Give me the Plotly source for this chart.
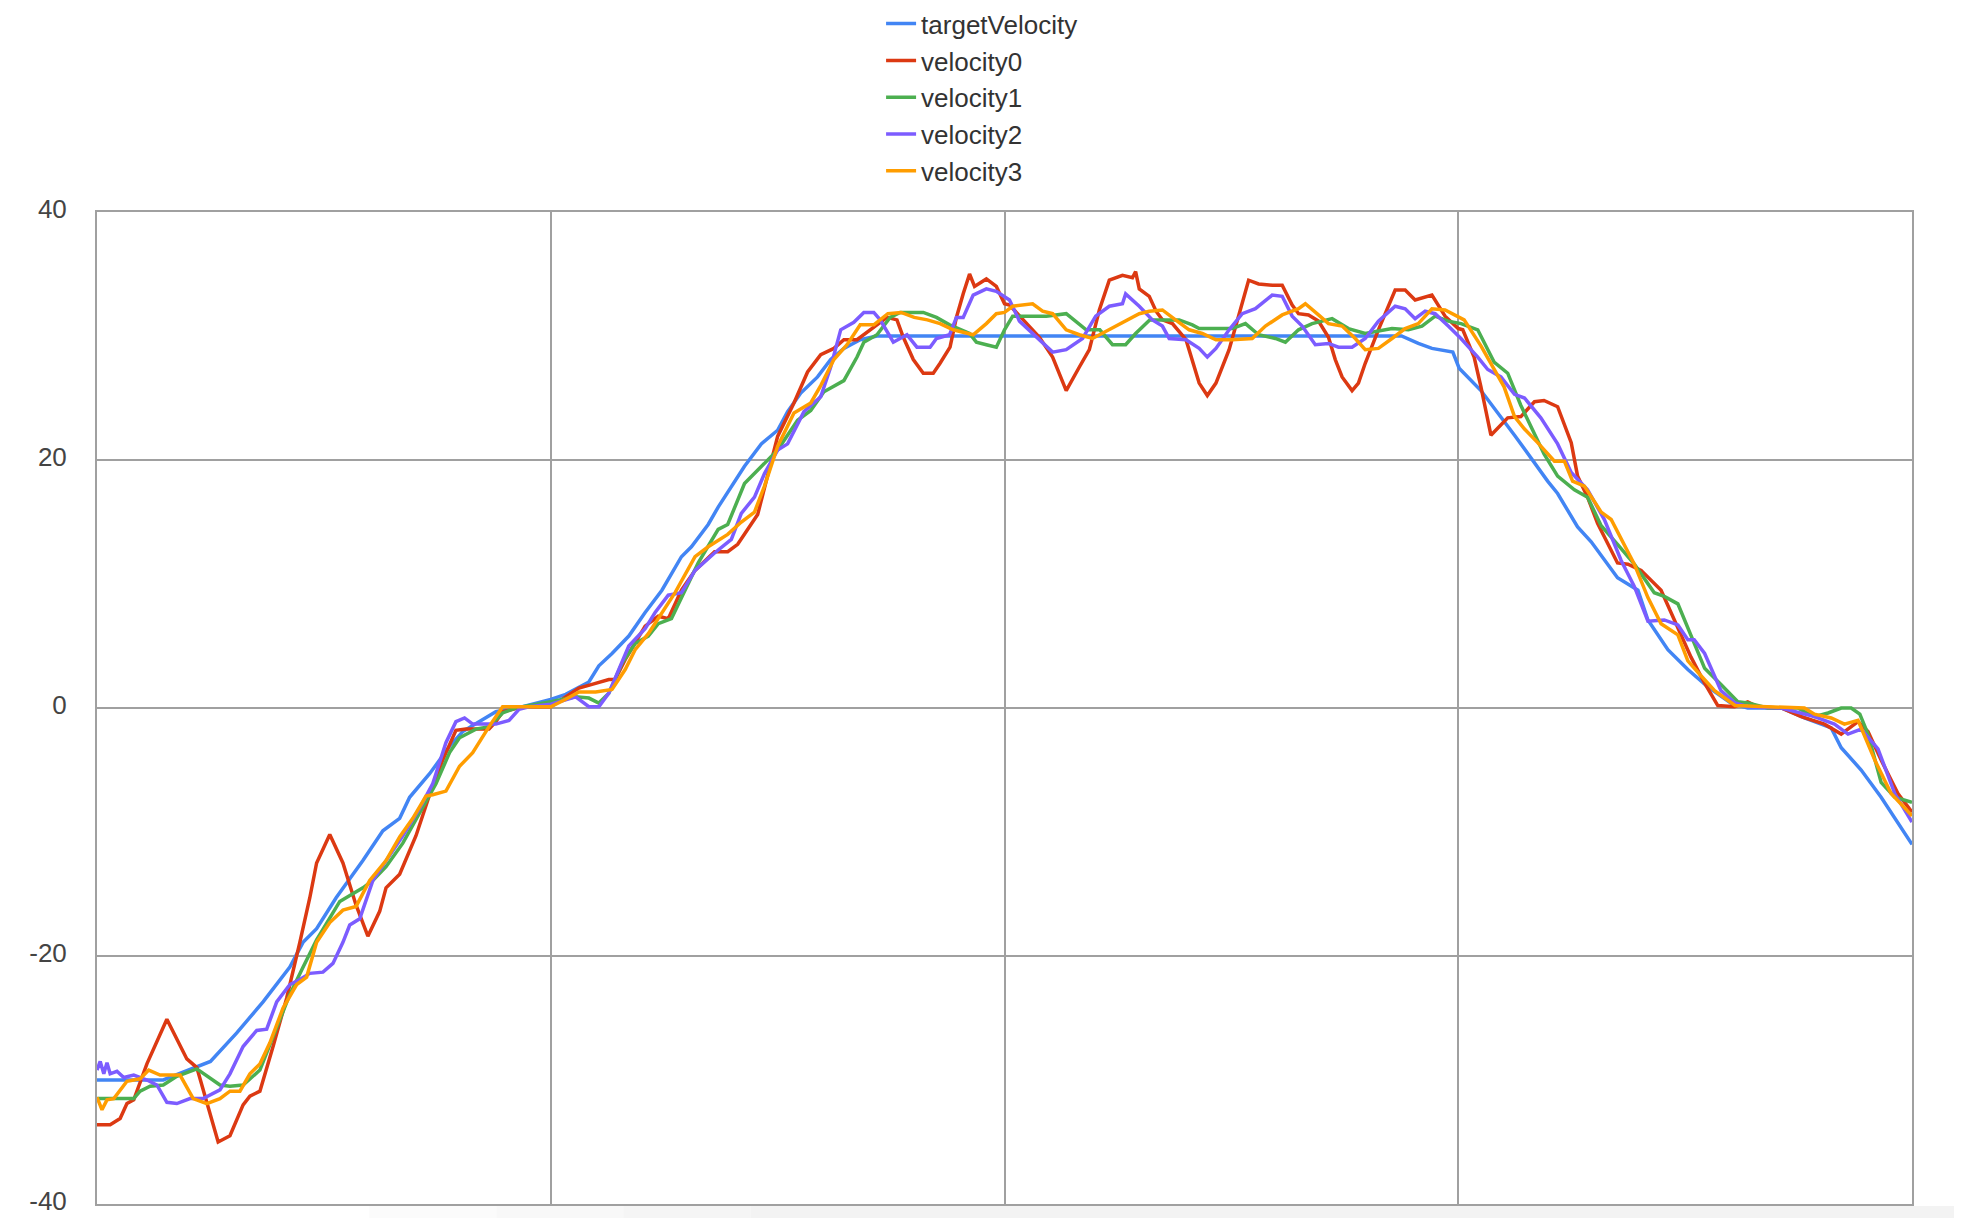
"""
vitesses cible et mesurees de quatre moteurs
"""

from plotly.graph_objects import Scatter, Figure

# donnees (x en echantillons, 0 a 400)
target_x = [0, 14.6, 25, 30.8, 36.6, 42.5, 45.4, 48.4, 52.7, 58.6, 63, 66.7, 68.9, 73.3, 77.7, 80.6,
            84.2, 87.9, 93.8, 100, 103.3, 108.4, 110.6, 113.5, 117.2, 120.8, 124.5, 128.8, 131,
            134.7, 136.9, 139.8, 142.7, 146.4, 150, 152.2, 155.1, 158.8, 161.7, 164.6, 168.2, 171.9,
            287.5, 291.2, 294.2, 298.8, 300.2, 305, 312.4, 319.7, 321.9, 326.3, 329.3, 335.1, 339.6,
            341.8, 346.2, 350.6, 355, 360.1, 363.8, 371.2, 376.3, 382.2, 384.4, 388.8, 393.2, 400]
target_y = [-30, -30, -28.5, -26.2, -23.7, -20.9, -18.9, -17.8, -15.3, -12.3, -9.9, -8.9, -7.2, -5.3,
            -3.1, -1.9, -1.1, -0.3, 0.1, 0.7, 1.1, 2.1, 3.4, 4.4, 5.8, 7.7, 9.5, 12.2, 13, 14.8, 16.2,
            17.9, 19.5, 21.3, 22.4, 23.9, 25.4, 26.7, 28.1, 29, 29.7, 30,
            30, 29.4, 29, 28.7, 27.4, 25.6, 22, 18.3, 17.3, 14.6, 13.4, 10.5, 9.5, 7.1, 4.7, 3.1,
            1.7, 0.4, 0, 0, -0.8, -1.6, -3.2, -5, -7.2, -11]

v0_x = [0, 2.9, 5.1, 6.6, 8.1, 11, 15.4, 19.8, 22, 24.2, 26.7, 29.3, 32.2, 33.7, 35.9, 38.8, 41.8,
        44.7, 46.9, 48.4, 51.3, 54.2, 57.1, 59.7, 62.3, 63.7, 66.7, 70.3, 73.3, 76.2, 79.1, 81.3,
        86.4, 87.9, 89.4, 93.8, 100,
        103.3, 106.2, 109.1, 111.3, 112.8, 114.2, 116.4, 119, 120.8, 123.7, 125.9, 128.8, 131.8,
        136.1, 139, 141.2, 144.2, 145.6, 150, 153.6, 156.6, 159.5, 162.4, 164.6, 167.5, 171.2,
        174.1, 176.3, 177.7, 179.9, 182.1, 184.3, 185.8, 188, 189.4, 190.9, 192.3, 193.4, 196,
        198.2, 200,
        201.1, 204.8, 207.7, 210.6, 213.6, 216.5, 218.7, 220.9, 223.1, 226, 228.2, 228.9, 229.7,
        231.9, 233.4, 234.8, 237, 240, 242.9, 244.7, 246.6, 249.5, 251.6, 253.8, 256, 259, 261.2,
        263.4, 264.8, 267, 269.2, 271.4, 272.9, 274.4, 276.6, 278, 279.5, 282.4, 286.1, 288.3,
        290.5, 294.2, 297.1, 300,
        301, 303.5, 305, 307.2, 310.9, 313.8, 316.8, 318.9, 321.9, 324.9, 326.3, 328.5, 330.7,
        335.1, 337.4, 340.3, 344.7, 347.6, 351.3, 354.3, 357.2, 360.9, 363.8, 366, 371.2, 375.6,
        380.7, 384.4, 388.1, 390.3, 393.2, 396.9, 400]
v0_y = [-33.6, -33.6, -33.1, -31.9, -31.6, -28.7, -25.1, -28.3, -29, -31.8, -35, -34.5, -32, -31.3,
        -30.9, -27.3, -23.4, -18.9, -15.3, -12.5, -10.2, -12.5, -15.9, -18.4, -16.4, -14.5, -13.4,
        -10.3, -7, -4.2, -1.8, -1.7, -1.7, -1.1, -0.3, 0.1, 0.1,
        0.9, 1.6, 1.9, 2.1, 2.3, 2.3, 3.9, 5.5, 6.6, 7.4, 7.2, 9.5, 11.1, 12.6, 12.6, 13.2, 14.9,
        15.6, 21.9, 24.6, 27.1, 28.5, 29, 29.7, 29.7, 30.7, 31.5, 31.3, 29.9, 28.1, 27, 27, 27.8,
        29.1, 31.5, 33.4, 35, 34, 34.6, 34, 32.6,
        32.5, 31, 29.9, 28.3, 25.6, 27.5, 28.9, 32.1, 34.5, 34.9, 34.7, 35.2, 33.8, 33.2, 32, 31.3,
        31, 29.7, 26.2, 25.2, 26.2, 28.9, 31.6, 34.5, 34.2, 34.1, 34.1, 32.5, 31.8, 31.7, 31.2,
        29.9, 28.1, 26.7, 25.6, 26.2, 27.8, 30.5, 33.7, 33.7, 32.9, 33.3, 31.6, 30.6,
        30.5, 28.3, 25.9, 22, 23.4, 23.5, 24.7, 24.8, 24.3, 21.4, 18.7, 17, 14.9, 11.7, 11.6, 11.1,
        9.5, 7.1, 4.1, 2, 0.2, 0.1, 0.5, 0.1, 0, -0.7, -1.3, -2.1, -1.1, -1.9, -4.2, -6.9, -8.4]

v1_x = [0, 8.1, 9.5, 11.7, 14.6, 17.6, 22, 27.1, 29.3, 32.2, 35.9, 38.8, 42.5, 45.4, 48.4, 53.5,
        58.6, 60.8, 63.7, 67.4, 71.1, 74.7, 77.7, 79.9, 83.5, 86.4, 89.4, 92.3, 100,
        105.5, 108.4, 110.6, 112.8, 115.7, 118.6, 121.5, 123.7, 126.6, 129.6, 132.5, 136.9, 139,
        142.7, 146.4, 150, 154.4, 157.3, 160.2, 164.6, 167.5, 169, 171.9, 174.8, 177, 182.1, 185,
        187.9, 192.3, 193.8, 196, 198.2, 200,
        201.8, 209.2, 213.6, 218, 221, 223.8, 226.7, 228.9, 232, 238.5, 241.4, 242.9, 250.2,
        253.1, 256, 259.7, 261.9, 264.8, 267.8, 272.2, 275.8, 279.5, 285.4, 289, 292, 294.9, 297.8,
        300.6, 304.3, 307.9, 310.9, 313.8, 318.9, 321.9, 325.6, 328.5, 331.5, 335.1, 338.8, 343.2,
        345.4, 348.4, 351.3, 354.3, 357.9, 361.6, 363.8, 368.2, 374.8, 378.5, 381.5, 384.4, 386.6,
        388.5, 390.3, 393.2, 396.2, 400]
v1_y = [-31.5, -31.5, -30.9, -30.5, -30.4, -29.7, -29.1, -30.4, -30.5, -30.4, -29.2, -26.5, -23.1,
        -20.9, -18.7, -15.6, -14.5, -13.9, -12.8, -10.9, -8.4, -6.1, -3.6, -2.4, -1.7, -1.5, -0.4,
        0, 0.5,
        0.9, 0.8, 0.4, 1.2, 3.6, 5.2, 5.8, 6.8, 7.2, 9.5, 11.7, 14.4, 14.8, 18.1, 19.5, 20.8, 23.2,
        24, 25.5, 26.4, 28.3, 29.5, 30.1, 31.5, 31.9, 31.9, 31.5, 30.9, 30.2, 29.5, 29.3, 29.1, 30.5,
        31.6, 31.6, 31.8, 30.5, 30.5, 29.3, 29.3, 30.2, 31.3, 31.3, 30.9, 30.6, 30.6, 31, 30.1,
        29.8, 29.5, 30.5, 31, 31.4, 30.6, 30.2, 30.6, 30.5, 30.8, 31.6, 31.2,
        31, 30.5, 27.9, 27, 24.4, 20.5, 18.7, 17.6, 17, 14.7, 13.2, 11.6, 9.3, 9, 8.4, 5.9, 3.2,
        1.9, 0.5, 0.4, 0, 0, -0.7, -0.4, 0, 0, -0.5, -2.1, -6, -7.2, -7.6]

v2_x = [0, 0.7, 1.5, 2.2, 2.9, 4.4, 5.9, 8.1, 11, 13.2, 15.4, 17.6, 20.5, 23.4, 27.1, 29.3, 32.2,
        35.2, 37.4, 39.6, 42.5, 44.7, 46.9, 49.8, 52, 54.2, 55.7, 57.9, 60.8, 63.7, 67.4, 71.1, 74,
        76.9, 79.1, 81, 82.8, 87.9, 90.8, 93, 95.2, 100,
        102, 105.5, 108.4, 110.6, 112.8, 117.2, 120.8, 123, 125.9, 128.8, 131.8, 136.1, 139.8,
        142, 144.9, 147.1, 150, 152.2, 155.8, 159.5, 161.7, 163.9, 166.8, 169, 171.2, 172.6,
        175.5, 178.5, 180.7, 183.6, 185, 187.9, 189.4, 190.9, 193.1, 196, 198.2, 200,
        201.1, 203.3, 206.2, 209.2, 210.6, 213.6, 217.2, 220.1, 223.1, 226, 226.7, 229.7, 232.6,
        234.8, 236.3, 240, 242.9, 244.7, 246.6, 249.5, 252.4, 255.3, 259, 261.2, 263.4, 265.6,
        268.5, 271.4, 273.6, 276.6, 279.5, 282.4, 286.1, 288.3, 290.5, 292.7, 294.9, 297.8,
        300.6, 304.3, 306.5, 309.4, 312.4, 314.6, 318.2, 321.9, 324.9, 328.5, 332.2, 335.9, 338.8,
        341.8, 345.4, 348.4, 350.6, 352, 354.3, 357.9, 361, 363.8, 371.2, 378.5, 382.9, 385.9,
        388.8, 392.5, 396.2, 400]
v2_y = [-29.2, -28.5, -29.5, -28.6, -29.5, -29.3, -29.8, -29.6, -30, -30.4, -31.8, -31.9, -31.5,
        -31.5, -30.8, -29.5, -27.3, -26, -25.9, -23.7, -22.3, -21.9, -21.4, -21.3, -20.6, -18.9,
        -17.5, -17, -13.9, -12.3, -10.3, -8.1, -6.1, -2.8, -1.1, -0.8, -1.3, -1.3, -1, -0.1, 0.1, 0.3,
        0.5, 0.9, 0.1, 0.1, 1.2, 5, 6.4, 7.7, 9.1, 9.3, 11.1, 12.5, 13.6, 15.7, 17, 18.9, 20.8, 21.3,
        23.9, 25.1, 27.5, 30.5, 31.1, 31.9, 31.9, 31.3, 29.5, 30.1, 29.1, 29.1, 29.8, 30.1, 31.5,
        31.5, 33.3, 33.8, 33.6, 33.2,
        32.9, 31.2, 30.2, 29.1, 28.7, 28.9, 29.8, 31.6, 32.4, 32.6, 33.4, 32.4, 31.3, 30.8, 29.8,
        29.7, 29, 28.3, 29, 30.5, 31.8, 32.2, 33.3, 33.2, 31.6, 30.8, 29.3, 29.4, 29.1, 29.1, 29.8,
        31.2, 32.4, 32.2, 31.4, 32, 31.8, 30.8,
        29.8, 28.3, 27.3, 26.7, 25.3, 25, 23.4, 21.3, 19, 17.6, 15.2, 11.9, 9.8, 7, 7.1, 6.7, 5.5,
        5.5, 4.4, 1.4, 0.4, 0.1, 0, -0.7, -1.3, -2.1, -1.7, -3.3, -6.9, -9.2]

v3_x = [0, 1.1, 2.2, 3.7, 6.6, 9.5, 11.4, 13.9, 18.3, 21.2, 24.2, 27.1, 29.3, 31.5, 33.7, 35.9,
        38.1, 41, 44, 46.2, 48.4, 51.3, 54.2, 57.1, 60.1, 63.7, 66.7, 69.6, 72.5, 74, 76.9, 79.9,
        82.8, 86.4, 89.4, 100,
        103.3, 106.2, 109.9, 113.5, 116.4, 118.6, 121.5, 124.5, 127.4, 131.8, 134.7, 139, 142,
        144.9, 147.1, 150, 153.6, 157.3, 159.5, 162.4, 165.3, 168.2, 171.2, 174.3, 177.2, 180.1,
        183, 185.8, 188.7, 193.1, 196, 198.2, 200,
        201.8, 204, 206.2, 208.4, 210.6, 213.6, 216.5, 219.4, 223.1, 226.7, 229.7, 231.9, 234.8,
        237.7, 240.7, 243.6, 246.6, 250.2, 254.6, 257.5, 261.2, 264.8, 266.3, 269.2, 271.4, 274.4,
        277.3, 279.5, 282.4, 285.4, 288.3, 291.2, 294.2, 297.1,
        301.3, 305, 307.9, 310.1, 312.4, 314.6, 317.5, 321.2, 323.4, 325.2, 327.8, 331.5, 333.7,
        338.8, 341.8, 344.7, 348.4, 350.6, 353.5, 356.5, 361, 376.3, 378.5, 382.2, 385.1, 388.1,
        391.8, 395.4, 400]
v3_y = [-31.4, -32.4, -31.6, -31.5, -30.1, -29.9, -29.2, -29.6, -29.6, -31.5, -31.9, -31.5, -30.9,
        -30.9, -29.5, -28.7, -27, -24.2, -22.3, -21.7, -18.9, -17.3, -16.3, -16, -13.9, -12.3,
        -10.4, -8.9, -7.1, -7, -6.7, -4.7, -3.6, -1.5, 0.1, 0.1,
        0.7, 1.3, 1.3, 1.5, 3.1, 4.7, 6, 7.7, 9.3, 12.2, 13, 14, 15, 15.8, 17.9, 21.1, 23.8, 24.6,
        26, 28.1, 29.3, 30.9, 30.9, 31.8, 31.9, 31.5, 31.3, 31, 30.5, 30.1, 31, 31.8, 31.9,
        32.4, 32.5, 32.6, 32, 31.8, 30.5, 30.1, 29.8, 30.5, 31.2, 31.8, 32, 32.1, 31.3, 30.5, 30.2,
        29.7, 29.7, 29.8, 30.8, 31.7, 32.2, 32.6, 31.7, 31, 30.8, 29.8, 28.9, 29, 29.8, 30.6, 31,
        32.2, 32.1,
        31.3, 29.2, 27.4, 25.9, 23.5, 22.5, 21.4, 19.9, 19.9, 18.3, 17.9, 15.8, 15.2, 11.6, 8.9,
        6.8, 5.9, 3.8, 2.6, 1.4, 0.2, 0, -0.5, -0.8, -1.3, -1, -4.2, -6.9, -8.7]

names = ["targetVelocity", "velocity0", "velocity1", "velocity2", "velocity3"]
colors = ["#4285F4", "#DC3912", "#4CAF50", "#7C5CFF", "#FF9D00"]
series = [(target_x, target_y), (v0_x, v0_y), (v1_x, v1_y), (v2_x, v2_y), (v3_x, v3_y)]

y_ticks = [-40, -20, 0, 20, 40]
y_labels = ["-40", "-20", "0", "20", "40"]

GRID = "#A0A0A0"
FONT = "Liberation Sans, Arial, Helvetica, sans-serif"

fig = Figure()
for name, color, (xs, ys) in zip(names, colors, series):
    fig.add_trace(Scatter(x=xs, y=ys, mode="lines", name=name,
                          line=dict(color=color, width=3.5)))

# ombre grise en bas de la capture (degrade en quelques pas)
shade = [(0.15, 0.22, "#FBFBFB"), (0.22, 0.29, "#F8F8F8"), (0.29, 0.36, "#F5F5F5"),
         (0.36, 1.03, "#F3F3F3")]
for x0, x1, c in shade:
    fig.add_shape(type="rect", xref="paper", yref="paper", x0=x0, x1=x1, y0=-0.03, y1=-0.002,
                  fillcolor=c, line_width=0, layer="below")

# la page a une marge de 8px : on retire 16px a la figure
fig.update_layout(
    width=1946, height=1210,
    margin=dict(l=89, r=42, t=204, b=14, autoexpand=False),
    paper_bgcolor="white", plot_bgcolor="white",
    font=dict(family=FONT, size=26, color="#444"),
    showlegend=True,
    legend=dict(orientation="v", x=0.432, xanchor="left", y=1.2135, yanchor="top",
                font=dict(size=26, color="#333"), bgcolor="rgba(0,0,0,0)",
                tracegroupgap=0),
    xaxis=dict(range=[0, 400], dtick=100, showticklabels=False, showgrid=True,
               gridcolor=GRID, gridwidth=2, zeroline=False, showline=True,
               linecolor=GRID, linewidth=2, mirror=True, ticks=""),
    yaxis=dict(range=[-40, 40], tickvals=y_ticks, ticktext=y_labels, showgrid=True,
               gridcolor=GRID, gridwidth=2, zeroline=False, showline=True, linecolor=GRID,
               linewidth=2, mirror=True, ticks="", ticklabelstandoff=23,
               ticklabeloverflow="allow", ticklabelshift=-3,
               tickfont=dict(size=26, color="#444")),
)

fig.write_html("out.html")
